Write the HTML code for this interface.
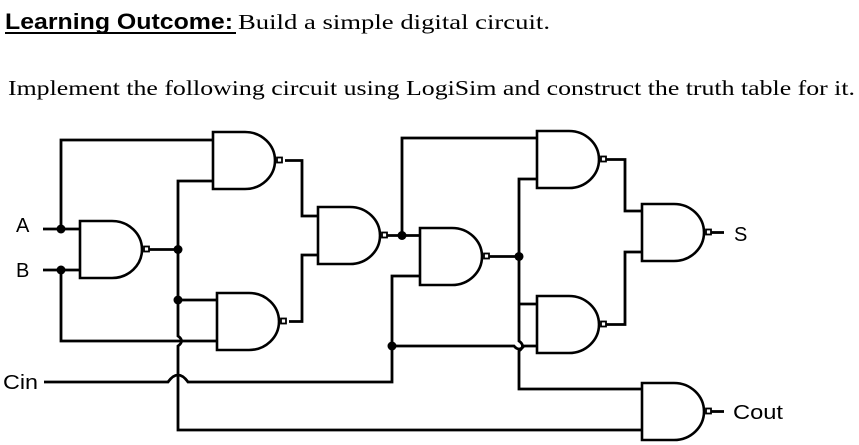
<!DOCTYPE html>
<html><head><meta charset="utf-8"><style>
html,body{margin:0;padding:0;background:#fff;}
svg{display:block;}
</style></head><body>
<svg width="859" height="445" viewBox="0 0 859 445" xmlns="http://www.w3.org/2000/svg">
<text x="5" y="29" font-family="Liberation Sans, sans-serif" font-weight="bold" font-size="22" textLength="228" lengthAdjust="spacingAndGlyphs">Learning Outcome:</text>
<line x1="5" y1="33" x2="236" y2="33" stroke="#000" stroke-width="2"/>
<text x="238" y="29" font-family="Liberation Serif, serif" font-size="21" textLength="312" lengthAdjust="spacingAndGlyphs">Build a simple digital circuit.</text>
<text x="8" y="95" font-family="Liberation Serif, serif" font-size="21" textLength="847" lengthAdjust="spacingAndGlyphs">Implement the following circuit using LogiSim and construct the truth table for it.</text>

<g font-family="Liberation Sans, sans-serif" font-size="20" fill="#000">
<text x="16" y="232">A</text>
<text x="16" y="277">B</text>
<text x="3" y="389" textLength="35" lengthAdjust="spacingAndGlyphs">Cin</text>
<text x="734" y="241">S</text>
<text x="733" y="419" textLength="50" lengthAdjust="spacingAndGlyphs">Cout</text>
</g>

<defs>
<g id="g">
<path d="M0,0 H32 A30 28.5 0 0 1 32,57 H0 Z" fill="none" stroke="#000" stroke-width="2.6"/>
<rect x="64" y="25.5" width="5" height="5" fill="none" stroke="#000" stroke-width="1.8"/>
</g>
</defs>
<use href="#g" x="80" y="221"/>
<use href="#g" x="213" y="132"/>
<use href="#g" x="217" y="293"/>
<use href="#g" x="318" y="207"/>
<use href="#g" x="420" y="228"/>
<use href="#g" x="537" y="131"/>
<use href="#g" x="537" y="296"/>
<use href="#g" x="642" y="204"/>
<use href="#g" x="642" y="383"/>

<g fill="none" stroke="#000" stroke-width="2.8">
<path d="M43,229 H80 M61,229 V140 H213"/>
<path d="M43,270 H80 M61,270 V341 H217"/>
<path d="M149,249.5 H178"/>
<path d="M213,181 H178 V336 Q185,341 178,346 V430 H642"/>
<path d="M178,300 H217"/>
<path d="M285,160.5 H302 V216 H318"/>
<path d="M289,321.5 H302 V255 H318"/>
<path d="M387,235.5 H420 M402,235.5 V138 H537"/>
<path d="M44,382 H168 Q178,368 188,382 H392 V276 H420"/>
<path d="M392,346 H514 Q519,352 524,346 H537"/>
<path d="M489,256.5 H519"/>
<path d="M537,179 H519 V341 Q526,346 519,351 V389 H642"/>
<path d="M519,304 H537"/>
<path d="M606,159.5 H625 V211 H642"/>
<path d="M606,324.5 H625 V252 H642"/>
<path d="M711,232.5 H724"/>
<path d="M711,411.5 H724"/>
</g>
<g fill="#000">
<circle cx="61" cy="229" r="4.5"/>
<circle cx="61" cy="270" r="4.5"/>
<circle cx="178" cy="249.5" r="4.5"/>
<circle cx="178" cy="300" r="4.5"/>
<circle cx="402" cy="235.5" r="4.5"/>
<circle cx="519" cy="256.5" r="4.5"/>
<circle cx="392" cy="346" r="4.5"/>
</g>
</svg>
</body></html>
